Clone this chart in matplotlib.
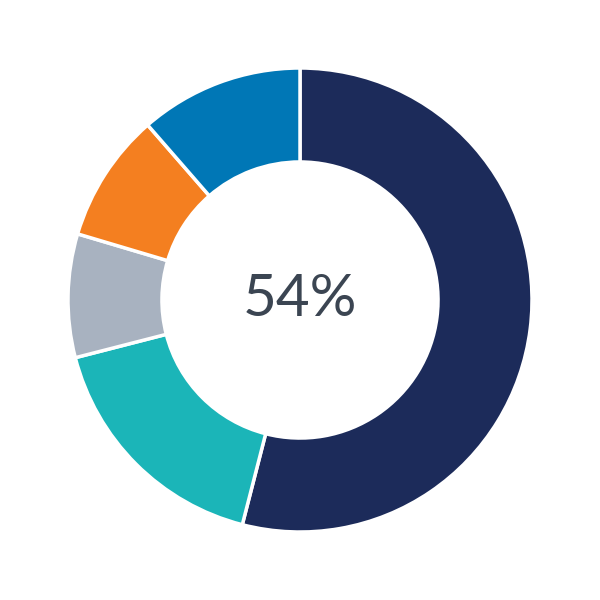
import matplotlib.pyplot as plt

# slices, clockwise from 12 o'clock
labels = ['Main', 'Teal', 'Gray', 'Orange', 'Blue']
values = [54, 17, 8.6, 9, 11.4]
colors = ['#1c2b5a', '#1bb5b8', '#a8b2c0', '#f47f20', '#0077b6']
center_text = '54%'

fig = plt.figure(figsize=(6, 6), dpi=100)
ax = fig.add_axes([0, 0, 1, 1])

ax.pie(values, colors=colors, startangle=90, counterclock=False,
       radius=1.0,
       wedgeprops=dict(width=0.405, edgecolor='white', linewidth=2.5))

ax.text(0, 0.0, center_text, ha='center', va='center',
        fontsize=42, color='#3b4552', family=['Lato', 'DejaVu Sans'],
        fontweight='normal')

lim = 300 / 232
ax.set_xlim(-lim, lim)
ax.set_ylim(-lim, lim)
ax.set_aspect('equal')
ax.axis('off')

plt.savefig('out.png', dpi=100, facecolor='white')
